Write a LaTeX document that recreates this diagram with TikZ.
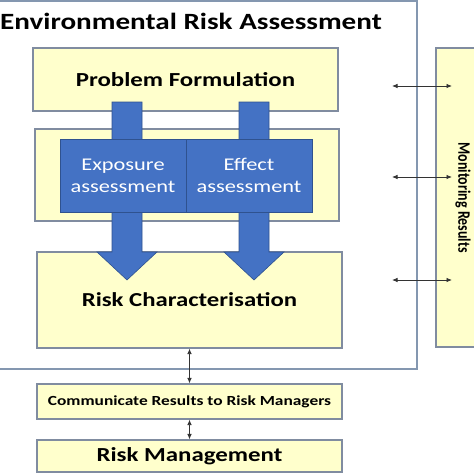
\documentclass[tikz,border=0pt]{standalone}
\usepackage{fontspec}
\setmainfont[FakeStretch=1.25]{Carlito}
\newfontfamily\monfont{Carlito}
\usetikzlibrary{arrows.meta}
\definecolor{boxyellow}{RGB}{255,255,204}
\definecolor{boxedge}{RGB}{128,140,160}
\definecolor{outeredge}{RGB}{132,151,176}
\definecolor{blueA}{RGB}{68,114,196}
\definecolor{blueE}{RGB}{47,82,143}
\tikzset{
  ybox/.style={draw=boxedge, fill=boxyellow, line width=1.1pt, rectangle, inner sep=0pt, font=\bfseries},
  bbox/.style={draw=blueE, fill=blueA, line width=0.8pt, rectangle, inner sep=0pt, text=white, align=center},
  barrow/.style={draw=blueE, fill=blueA, line width=0.6pt},
  dbl/.style={{Latex[length=5.5pt,width=4.5pt]}-{Latex[length=5.5pt,width=4.5pt]}, line width=0.8pt, draw=black!80}
}
\begin{document}
\begin{tikzpicture}[x=1pt,y=-1pt]
\useasboundingbox (0,0) rectangle (474,474);
\fill[white] (0,0) rectangle (474,474);
% outer ERA box
\node[draw=outeredge, line width=1.2pt, rectangle, minimum width=421pt, minimum height=368pt, inner sep=0pt] (era) at (206.5,185) {};
\node[anchor=base, font=\bfseries\fontsize{23.3}{26}\selectfont] (title) at (191,29) {Environmental Risk Assessment};
% monitoring box
\node[ybox, minimum width=48pt, minimum height=299pt] (mon) at (460,197.5) {};
\node[rotate=-90, font=\monfont\bfseries\fontsize{14}{16}\selectfont] (montext) at (463,197.5) {\scalebox{1}[1.25]{Monitoring Results}};
% yellow boxes
\node[ybox, minimum width=305pt, minimum height=63pt, font=\bfseries\fontsize{19.9}{22}\selectfont] (pf) at (185.5,79.5) {Problem Formulation};
\node[ybox, minimum width=304pt, minimum height=92pt] (mid) at (187,175) {};
\node[ybox, minimum width=305pt, minimum height=96pt, font=\bfseries\fontsize{19.8}{22}\selectfont] (rc) at (189.5,300) {Risk Characterisation};
\node[ybox, minimum width=305pt, minimum height=35pt, font=\bfseries\fontsize{13.9}{16}\selectfont] (comm) at (189.5,401.5) {Communicate Results to Risk Managers};
\node[ybox, minimum width=305pt, minimum height=32pt, font=\bfseries\fontsize{19.9}{22}\selectfont] (rm) at (189.5,456) {Risk Management};
% blue block arrows
\path[barrow] (112,102) -- (142,102) -- (142,252) -- (157,252) -- (127,280) -- (97,252) -- (112,252) -- cycle;
\path[barrow] (239,102) -- (269,102) -- (269,252) -- (284,252) -- (254,280) -- (224,252) -- (239,252) -- cycle;
% blue boxes
\node[bbox, minimum width=126pt, minimum height=73pt, font=\fontsize{17.9}{22}\selectfont] (expo) at (123,175.5) {Exposure\\assessment};
\node[bbox, minimum width=126pt, minimum height=73pt, font=\fontsize{17.9}{22}\selectfont] (effe) at (249,175.5) {Effect\\assessment};
% double arrows
\draw[dbl] (rc.south) -- (comm.north);
\draw[dbl] (comm.south) -- (rm.north);
\coordinate (h1a) at (392,86);  \coordinate (h1b) at (452,86);
\coordinate (h2a) at (392,177); \coordinate (h2b) at (452,177);
\coordinate (h3a) at (392,280); \coordinate (h3b) at (452,280);
\draw[dbl] (h1a) -- (h1b);
\draw[dbl] (h2a) -- (h2b);
\draw[dbl] (h3a) -- (h3b);
\end{tikzpicture}
\end{document}
